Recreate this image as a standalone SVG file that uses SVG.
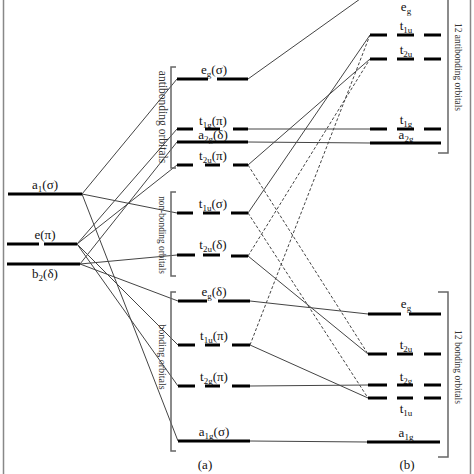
<svg xmlns="http://www.w3.org/2000/svg" width="474" height="474" viewBox="0 0 474 474">
<style>
.lv{stroke:#000;stroke-width:3;fill:none}
.c{stroke:#444;stroke-width:1;fill:none}
.d{stroke:#444;stroke-width:1;fill:none;stroke-dasharray:3,2}
.br{stroke:#666;stroke-width:1.5;fill:none}
.fr{stroke:#888;stroke-width:1.5;fill:none}
text{font-family:"Liberation Serif","Times New Roman",serif;font-size:13px;fill:#111}
.m{text-anchor:middle}
.rot{font-size:10px;fill:#333;text-anchor:middle}
.s{font-size:9px}
</style>
<rect width="474" height="474" fill="#fff"/>
<g id="frame">
<line class="fr" x1="3.5" y1="0" x2="3.5" y2="474"/>
<line class="fr" x1="470.5" y1="0" x2="470.5" y2="474"/>
</g>
<g id="connectors">
<line class="c" x1="82" y1="194" x2="177" y2="79"/>
<line class="c" x1="82" y1="194" x2="177" y2="213"/>
<line class="c" x1="82" y1="194" x2="178" y2="441"/>
<line class="c" x1="77" y1="244" x2="177" y2="129"/>
<line class="c" x1="77" y1="244" x2="177" y2="165"/>
<line class="c" x1="77" y1="244" x2="178" y2="345"/>
<line class="c" x1="77" y1="244" x2="178" y2="386"/>
<line class="c" x1="80" y1="264" x2="177" y2="142"/>
<line class="c" x1="80" y1="264" x2="177" y2="255"/>
<line class="c" x1="80" y1="264" x2="178" y2="301"/>
<line class="c" x1="248" y1="79" x2="360" y2="-1"/>
<line class="c" x1="248" y1="129" x2="370" y2="129"/>
<line class="c" x1="248" y1="142" x2="370" y2="143"/>
<line class="c" x1="248" y1="165" x2="370" y2="59"/>
<line class="c" x1="248" y1="213" x2="370" y2="35"/>
<line class="c" x1="248" y1="256" x2="368" y2="354"/>
<line class="c" x1="250" y1="301" x2="368" y2="314"/>
<line class="c" x1="250" y1="345" x2="368" y2="398"/>
<line class="c" x1="250" y1="386" x2="368" y2="385"/>
<line class="c" x1="250" y1="441" x2="367" y2="442"/>
<line class="d" x1="248" y1="256" x2="370" y2="59"/>
<line class="d" x1="250" y1="345" x2="370" y2="35"/>
<line class="d" x1="248" y1="213" x2="368" y2="398"/>
<line class="d" x1="248" y1="165" x2="368" y2="354"/>
</g>
<g id="left-levels">
<g id="a1">
<line class="lv" x1="8" y1="194" x2="82" y2="194"/>
<text class="m" x="45" y="189">a<tspan class="s" dy="3">1</tspan><tspan dy="-3">(σ)</tspan></text>
</g>
<g id="e">
<line class="lv" x1="7" y1="244" x2="39" y2="244"/>
<line class="lv" x1="44" y1="244" x2="77" y2="244"/>
<text class="m" x="45" y="239">e(π)</text>
</g>
<g id="b2">
<line class="lv" x1="7" y1="264" x2="80" y2="264"/>
<text class="m" x="45" y="278">b<tspan class="s" dy="3">2</tspan><tspan dy="-3">(δ)</tspan></text>
</g>
</g>
<g id="middle-levels">
<g id="eg-sigma">
<path class="lv" d="M177 79H208M217 79H248"/>
<text class="m" x="214" y="74">e<tspan class="s" dy="3">g</tspan><tspan dy="-3">(σ)</tspan></text>
</g>
<g id="t1g-pi">
<path class="lv" d="M177 129H193M205 129H220M233 129H248"/>
<text class="m" x="213" y="125">t<tspan class="s" dy="3">1g</tspan><tspan dy="-3">(π)</tspan></text>
</g>
<g id="a2g-delta">
<path class="lv" d="M177 142H248"/>
<text class="m" x="213" y="139">a<tspan class="s" dy="3">2g</tspan><tspan dy="-3">(δ)</tspan></text>
</g>
<g id="t2u-pi">
<path class="lv" d="M177 165H193M205 165H220M233 165H248"/>
<text class="m" x="213" y="160">t<tspan class="s" dy="3">2u</tspan><tspan dy="-3">(π)</tspan></text>
</g>
<g id="t1u-sigma">
<path class="lv" d="M177 213H193M203 213H220M231 213H248"/>
<text class="m" x="213" y="208">t<tspan class="s" dy="3">1u</tspan><tspan dy="-3">(σ)</tspan></text>
</g>
<g id="t2u-delta">
<path class="lv" d="M177 255H195M203 255H220M231 256H248"/>
<text class="m" x="213" y="249">t<tspan class="s" dy="3">2u</tspan><tspan dy="-3">(δ)</tspan></text>
</g>
<g id="eg-delta">
<path class="lv" d="M178 301H207M218 301H250"/>
<text class="m" x="214" y="296">e<tspan class="s" dy="3">g</tspan><tspan dy="-3">(δ)</tspan></text>
</g>
<g id="t1u-pi">
<path class="lv" d="M178 345H195M205 345H220M232 345H250"/>
<text class="m" x="214" y="340">t<tspan class="s" dy="3">1u</tspan><tspan dy="-3">(π)</tspan></text>
</g>
<g id="t2g-pi">
<path class="lv" d="M178 386H195M205 386H220M232 386H250"/>
<text class="m" x="214" y="381">t<tspan class="s" dy="3">2g</tspan><tspan dy="-3">(π)</tspan></text>
</g>
<g id="a1g-sigma">
<path class="lv" d="M178 441H250"/>
<text class="m" x="214" y="436">a<tspan class="s" dy="3">1g</tspan><tspan dy="-3">(σ)</tspan></text>
</g>
</g>
<g id="brackets">
<path class="br" d="M176 67H171V168H176"/>
<path class="br" d="M176 192H171V276H176"/>
<path class="br" d="M176 292H171V451H176"/>
<path class="br" d="M448 -1V153H438"/>
<path class="br" d="M438 292H448V457H438"/>
<text class="rot" transform="translate(159,117) rotate(90)" style="font-size:11.5px">antibonding orbitals</text>
<text class="rot" transform="translate(159,235) rotate(90)" style="font-size:9.3px">non-bonding orbitals</text>
<text class="rot" transform="translate(159,357) rotate(90)">bonding orbitals</text>
<text class="rot" transform="translate(455,67) rotate(90)" style="font-size:9.5px">12 antibonding orbitals</text>
<text class="rot" transform="translate(455,367) rotate(90)" style="font-size:9.5px">12 bonding orbitals</text>
</g>
<g id="right-levels">
<g id="r-eg-top">
<text class="m" x="406" y="11">e<tspan class="s" dy="3">g</tspan></text>
</g>
<g id="r-t1u-a">
<path class="lv" d="M370 35H387M397 35H414M424 35H441"/>
<text class="m" x="406" y="30">t<tspan class="s" dy="3">1u</tspan></text>
</g>
<g id="r-t2u-a">
<path class="lv" d="M370 59H387M397 59H414M424 59H441"/>
<text class="m" x="406" y="54">t<tspan class="s" dy="3">2u</tspan></text>
</g>
<g id="r-t1g">
<path class="lv" d="M370 129H387M397 129H414M424 129H441"/>
<text class="m" x="406" y="124">t<tspan class="s" dy="3">1g</tspan></text>
</g>
<g id="r-a2g">
<path class="lv" d="M370 143H441"/>
<text class="m" x="406" y="139">a<tspan class="s" dy="3">2g</tspan></text>
</g>
<g id="r-eg">
<path class="lv" d="M368 314H401M409 314H441"/>
<text class="m" x="406" y="308">e<tspan class="s" dy="3">g</tspan></text>
</g>
<g id="r-t2u-b">
<path class="lv" d="M368 354H387M397 354H413M424 354H441"/>
<text class="m" x="406" y="349">t<tspan class="s" dy="3">2u</tspan></text>
</g>
<g id="r-t2g">
<path class="lv" d="M368 385H387M397 385H413M424 385H441"/>
<text class="m" x="406" y="381">t<tspan class="s" dy="3">2g</tspan></text>
</g>
<g id="r-t1u-b">
<path class="lv" d="M368 398H387M397 398H413M424 398H441"/>
<text class="m" x="406" y="413">t<tspan class="s" dy="3">1u</tspan></text>
</g>
<g id="r-a1g">
<path class="lv" d="M367 442H440"/>
<text class="m" x="406" y="437">a<tspan class="s" dy="3">1g</tspan></text>
</g>
</g>
<text class="m" x="205" y="469">(a)</text>
<text class="m" x="407" y="469">(b)</text>
</svg>
